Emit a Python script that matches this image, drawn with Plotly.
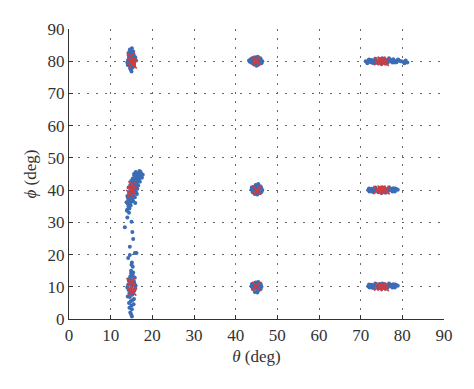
import plotly.graph_objects as go

# Each cluster: list of (theta, phi) points
cluster_15_80 = [(15.0,80.0),(14.4,81.0),(15.6,79.2),(14.2,80.3),(15.8,80.8),(14.7,82.5),(15.3,78.1),(14.0,79.6),(16.1,80.2),(14.9,83.4),
                 (15.2,81.6),(14.5,78.7),(15.5,82.1),(14.8,77.4),(15.1,84.0),(14.3,81.9),(15.7,79.9),(15.0,76.8),(14.6,79.0),(15.4,83.0),
                 (14.9,80.6),(15.2,78.9),(14.4,82.8),(15.6,81.4),(15.0,81.1),(14.7,80.5),(15.3,79.5),(14.8,82.2),(15.1,77.9),(15.9,81.2),
                 (14.1,78.8),(15.5,80.1),(14.6,83.6),(15.0,78.4),(15.3,82.9),(14.8,79.8),(15.2,80.7),(14.9,81.8),(15.0,82.6),(14.5,81.5),
                 (15.6,78.6),(15.1,79.3),(14.7,77.8),(15.4,81.3),(14.9,83.1),(15.2,80.4)]
cluster_15_40 = [(14.0,34.0),(14.5,34.3),(14.3,35.0),(14.8,35.2),(14.1,35.8),(14.6,36.0),(15.0,36.4),(14.3,36.8),(14.8,37.0),(15.2,37.3),
                 (14.5,37.8),(15.0,38.0),(15.5,38.2),(14.6,38.7),(15.1,39.0),(15.6,39.2),(14.8,39.6),(15.3,40.0),(15.8,40.2),(14.9,40.5),
                 (15.4,40.8),(16.0,41.0),(15.1,41.4),(15.6,41.6),(16.2,41.8),(15.3,42.2),(15.9,42.4),(16.5,42.6),(15.6,43.0),(16.2,43.2),
                 (16.8,43.4),(15.9,43.8),(16.5,44.0),(17.1,44.2),(16.2,44.6),(16.8,44.8),(17.4,45.0),(16.6,45.3),(17.2,45.6),(16.9,45.9),
                 (15.7,44.5),(14.4,33.0),(13.9,33.6),(15.2,38.6),(15.7,40.6),(16.1,42.0),(14.7,36.5),(16.4,43.7),
                 (13.8,36.2),(14.2,37.4),(14.0,38.2),(14.4,39.4),(14.3,40.8),(14.7,41.6),(14.9,42.8),(15.3,43.6),(15.6,45.0),(16.0,45.6),
                 (15.4,36.6),(15.8,37.8),(16.1,39.4),(16.4,40.4),(16.6,41.4),(17.0,42.6),(17.5,43.8),(17.7,44.8),(15.9,36.0),(16.3,38.8),
                 (15.0,30.2),(13.4,28.5),(14.6,22.4),(16.2,20.5),(14.2,18.9),(15.4,24.8),(14.0,31.5),(15.2,27.0)]
cluster_15_10 = [(15.0,10.0),(14.3,9.0),(15.7,11.0),(14.6,12.5),(15.4,8.0),(14.1,7.0),(15.9,9.5),(14.8,5.5),(15.2,13.8),(14.5,3.5),
                 (15.6,6.2),(14.9,15.0),(15.3,16.2),(14.4,11.8),(15.8,12.8),(14.7,2.0),(15.1,0.8),(14.2,10.6),(16.0,10.3),(14.9,8.6),
                 (15.5,4.6),(14.6,6.8),(15.2,7.5),(14.0,9.8),(15.0,12.0),(15.4,14.4),(14.7,13.2),(15.6,11.6),(14.4,5.0),(15.1,3.0),
                 (14.8,9.2),(15.3,10.8),(14.9,1.5),(15.0,16.8),(14.6,19.9),(15.8,20.5),(15.1,17.5),(14.5,8.0),(15.5,13.0),(14.8,11.0),
                 (15.2,5.8),(14.3,12.2),(15.7,8.8),(15.0,4.2),(14.9,14.2)]
cluster_45_80 = [(45.0,80.0),(43.2,80.2),(43.8,79.5),(44.0,80.9),(44.4,79.0),(44.6,81.2),(45.0,78.6),(45.3,81.4),(45.6,79.2),(46.0,80.6),
                 (46.4,80.0),(44.3,80.4),(45.7,80.3),(44.8,79.5),(45.2,80.7),(43.6,80.6),(46.2,79.4),(44.9,81.0),(45.5,79.8),(44.1,79.7),
                 (45.9,80.9),(44.7,80.1),(45.4,78.9),(43.4,79.8)]
cluster_45_40 = [(45.0,40.0),(43.8,40.2),(44.1,39.3),(44.3,41.0),(44.6,38.8),(44.8,41.6),(45.2,38.6),(45.4,41.9),(45.7,39.1),(46.1,40.8),
                 (46.4,40.0),(44.4,40.4),(45.6,40.5),(44.8,39.6),(45.2,40.9),(43.9,40.9),(46.2,39.4),(45.0,41.3),(45.5,39.8),(44.2,39.7),
                 (45.9,41.2),(44.7,40.1),(45.3,39.0),(44.0,39.9)]
cluster_45_10 = [(45.0,10.0),(43.8,10.2),(44.1,9.3),(44.3,11.0),(44.6,8.4),(44.8,11.3),(45.2,8.2),(45.4,11.5),(45.7,9.1),(46.0,10.8),
                 (46.2,10.0),(44.4,10.4),(45.6,10.5),(44.8,9.6),(45.2,10.9),(43.9,10.9),(46.0,9.3),(45.0,11.1),(45.5,9.8),(44.2,9.7),
                 (45.9,11.0),(44.7,10.1),(45.3,8.8),(44.0,9.9)]
cluster_75_80 = [(71.2,80.0),(72.0,80.5),(72.8,79.5),(73.5,80.8),(74.2,79.3),(75.0,80.2),(75.8,80.6),(76.5,79.6),(77.2,80.4),(78.0,79.8),
                 (78.8,80.3),(79.6,80.0),(80.5,79.4),(73.0,80.1),(74.6,80.7),(76.0,79.2),(77.6,79.6),(79.0,80.5),(72.4,79.7),(75.4,79.5),
                 (76.8,80.9),(78.4,80.1),(74.0,80.0),(80.0,79.9),(71.6,79.4),(73.8,79.6),(77.0,80.2),(75.2,80.9),(72.2,80.2),(73.2,79.4),
                 (74.4,79.9),(75.6,79.8),(76.2,80.3),(77.4,80.0),(78.2,79.6),(79.2,80.2),(72.6,80.4),(73.6,80.6),(74.8,80.3),(76.4,79.9),
                 (77.8,80.6),(78.6,79.7),(71.9,80.3),(75.0,79.1),(81.2,79.6),(80.8,80.2)]
cluster_75_40 = [(71.8,40.0),(72.0,40.5),(72.8,39.5),(73.5,40.8),(74.2,39.3),(75.0,40.2),(75.8,40.6),(76.5,39.6),(77.2,40.4),(78.0,39.8),
                 (78.6,40.3),(73.0,40.1),(74.6,40.7),(76.0,39.2),(77.6,39.6),(72.4,39.7),(75.4,39.5),(76.8,40.9),(74.0,40.0),(72.1,39.6),
                 (73.8,40.2),(77.0,40.1),(75.2,40.9),(78.3,40.5),(72.2,40.2),(73.2,39.4),(74.4,39.9),(75.6,39.8),(76.2,40.3),(77.4,40.0),
                 (78.2,39.6),(72.6,40.4),(73.6,40.6),(74.8,40.3),(76.4,39.9),(77.8,40.6),(78.9,40.1),(75.0,39.1)]
cluster_75_10 = [(71.8,10.2),(72.0,10.7),(72.8,9.7),(73.5,11.0),(74.2,9.5),(75.0,10.4),(75.8,10.8),(76.5,9.8),(77.2,10.6),(78.0,10.0),
                 (78.6,10.5),(73.0,10.3),(74.6,10.9),(76.0,9.4),(77.6,9.8),(72.4,9.9),(75.4,9.7),(76.8,11.0),(74.0,10.2),(72.1,9.8),
                 (73.8,10.4),(77.0,10.3),(75.2,11.0),(78.3,10.7),(72.2,10.4),(73.2,9.6),(74.4,10.1),(75.6,10.0),(76.2,10.5),(77.4,10.2),
                 (78.2,9.8),(72.6,10.6),(73.6,10.8),(74.8,10.5),(76.4,10.1),(77.8,10.8),(78.9,10.3),(75.0,9.4)]

# red estimate markers
est_x = [15.0,14.8,15.3,15.0,15.2,14.7,15.0,14.8,15.2,45.0,44.8,45.0,45.2,45.0,44.9,74.2,75.0,75.8,74.0,75.0,76.0,74.2,75.0,75.8]
est_y = [80.0,81.5,79.0,40.0,41.5,38.8,10.0,11.5,8.5,80.0,80.2,40.0,39.8,10.0,10.2,80.0,80.2,79.8,40.0,40.2,39.9,10.0,10.1,9.9]

x_ticks = [0,10,20,30,40,50,60,70,80,90]
y_ticks = [0,10,20,30,40,50,60,70,80,90]

clusters = [cluster_15_80, cluster_15_40, cluster_15_10, cluster_45_80, cluster_45_40,
            cluster_45_10, cluster_75_80, cluster_75_40, cluster_75_10]
all_x = [p[0] for c in clusters for p in c]
all_y = [p[1] for c in clusters for p in c]

fig = go.Figure()
fig.add_trace(go.Scatter(x=all_x, y=all_y, mode="markers",
                         marker=dict(size=4, color="#3b6db5"), showlegend=False))
fig.add_trace(go.Scatter(x=est_x, y=est_y, mode="markers",
                         marker=dict(size=8, color="#d83a3a", symbol="x-thin",
                                     line=dict(width=1.6, color="#d83a3a")),
                         showlegend=False))

font = dict(family="Liberation Serif", size=17, color="#333333")
axis_common = dict(range=[0, 90], tickvals=x_ticks, showline=True, linecolor="#333333",
                   linewidth=1.2, ticks="inside", ticklen=4, tickcolor="#333333",
                   showgrid=True, gridcolor="#666666", griddash="1.5px,7.5px", gridwidth=1.2,
                   zeroline=False, tickfont=font, mirror=False, automargin=False)
fig.update_layout(
    width=466, height=381,
    margin=dict(l=61, r=30, t=21, b=70),
    plot_bgcolor="white", paper_bgcolor="white",
    xaxis=dict(axis_common, title=dict(text="<i>θ</i> (deg)", font=font, standoff=6)),
    yaxis=dict(axis_common, tickvals=y_ticks, title=dict(text="<i>ϕ</i> (deg)", font=font, standoff=6)),
)
fig.write_html("out.html")
